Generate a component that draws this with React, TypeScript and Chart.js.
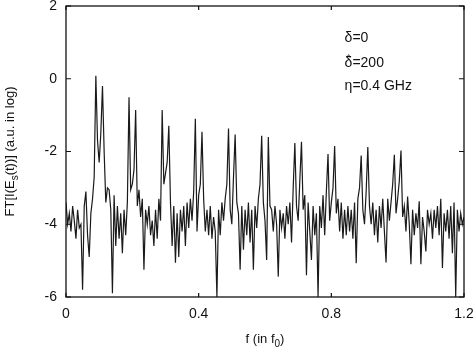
import React, { useEffect, useRef } from "react";
import { Chart, registerables } from "chart.js";

Chart.register(...registerables);

// frequency grid step (in f0), x from 0 to 1.2
const FREQ_STEP = 0.005;

// FT[I(Es(t))] in log, one value per FREQ_STEP starting at f = 0
const LOG_FT = [
  -3.4, -4.0, -3.7, -4.2, -3.5, -3.9, -4.4, -3.6, -4.1, -4.0,
  -5.8, -3.5, -3.1, -4.3, -4.9, -3.7, -3.3, -2.7, 0.08, -1.7,
  -2.3, -1.5, -0.2, -2.0, -3.4, -3.0, -3.05, -3.6, -5.9, -3.2,
  -4.6, -3.5, -4.4, -3.7, -4.8, -3.6, -4.3, -3.4, -0.51, -3.05,
  -2.9, -2.5, -0.86, -3.5, -3.05, -3.8, -3.3, -5.25, -3.6, -4.0,
  -3.5, -4.3, -3.9, -4.6, -3.6, -4.4, -3.3, -3.9, -0.86, -2.9,
  -2.6, -2.3, -1.29, -3.4, -4.6, -3.5, -5.06, -3.7, -4.9, -3.6,
  -4.2, -3.5, -4.6, -3.4, -4.1, -3.3, -3.9, -3.1, -1.1, -4.2,
  -3.2, -2.9, -1.46, -3.3, -4.2, -3.6, -4.3, -3.5, -4.4, -3.8,
  -4.2, -6.0, -3.6, -4.3, -3.4, -3.9, -3.3, -2.9, -1.37, -3.6,
  -4.0, -2.7, -1.53, -3.4, -3.7, -5.25, -3.5, -4.7, -3.6, -4.3,
  -3.4, -4.5, -3.6, -5.25, -3.5, -4.1, -3.3, -2.9, -1.57, -3.4,
  -3.9, -4.98, -1.6, -3.5, -3.6, -4.2, -3.5, -4.0, -5.44, -3.6,
  -4.1, -3.7, -4.4, -3.5, -4.0, -3.4, -4.5, -3.0, -1.77, -3.5,
  -3.9, -2.8, -1.73, -3.6, -3.2, -5.4, -3.4, -4.2, -4.98, -3.5,
  -4.3, -3.7, -6.0, -3.5, -4.1, -3.2, -4.3, -3.1, -2.07, -3.9,
  -3.4, -3.0, -1.85, -3.7, -3.3, -4.2, -3.4, -4.4, -3.6, -4.3,
  -3.5, -4.2, -3.6, -4.4, -3.4, -5.07, -3.3, -3.0, -2.11, -3.6,
  -4.0, -3.1, -1.88, -3.5, -4.0, -3.4, -4.3, -3.6, -4.5, -3.5,
  -4.1, -3.3, -4.2, -5.05, -3.3, -3.9, -3.4, -2.9, -2.09, -3.7,
  -3.3, -2.8, -1.97, -3.8, -3.5, -4.2, -3.24, -4.0, -5.1, -3.6,
  -4.3, -3.7, -4.1, -3.37, -5.1, -3.8, -4.2, -4.75, -3.6, -4.0,
  -3.7, -4.4, -3.6, -4.1, -3.5, -4.3, -3.3, -5.2, -3.7, -4.2,
  -3.6, -4.4, -3.5, -4.8, -3.4, -6.0, -3.6, -4.2, -3.7, -4.0,
  -3.8,
];

const X_TICKS = [0, 0.4, 0.8, 1.2];
const Y_TICKS = [-6, -4, -2, 0, 2];
const ANNOTATIONS = ["δ=0", "δ=200", "η=0.4 GHz"];

const FONT = "Arial, 'Liberation Sans', Helvetica, sans-serif";

const framePlugin = {
  id: "frame",
  afterDraw(chart: any) {
    const { ctx, chartArea, scales } = chart;
    const { left, right, top, bottom } = chartArea;
    ctx.save();
    ctx.strokeStyle = "#111";
    ctx.lineWidth = 1.3;
    ctx.strokeRect(left, top, right - left, bottom - top);
    ctx.lineWidth = 1.2;
    ctx.beginPath();
    for (const v of X_TICKS) {
      const x = scales.x.getPixelForValue(v);
      ctx.moveTo(x, bottom);
      ctx.lineTo(x, bottom - 4);
      ctx.moveTo(x, top);
      ctx.lineTo(x, top + 4);
    }
    for (const v of Y_TICKS) {
      const y = scales.y.getPixelForValue(v);
      ctx.moveTo(left, y);
      ctx.lineTo(left + 5, y);
      ctx.moveTo(right, y);
      ctx.lineTo(right - 5, y);
    }
    ctx.stroke();

    // annotations
    ctx.fillStyle = "#111";
    ctx.font = `14px ${FONT}`;
    ctx.textBaseline = "alphabetic";
    ctx.textAlign = "left";
    const ax = scales.x.getPixelForValue(0.84);
    ctx.fillText(ANNOTATIONS[0], ax, 42);
    ctx.fillText(ANNOTATIONS[1], ax, 67);
    ctx.fillText(ANNOTATIONS[2], ax, 90);
    // hat over the second delta
    ctx.font = `9px ${FONT}`;
    ctx.fillText("^", ax + 2, 61);

    // title with subscript
    const drawSub = (parts: [string, boolean][], cx: number, cy: number) => {
      let total = 0;
      for (const [t, sub] of parts) {
        ctx.font = sub ? `10px ${FONT}` : `13px ${FONT}`;
        total += ctx.measureText(t).width;
      }
      let x = cx - total / 2;
      for (const [t, sub] of parts) {
        ctx.font = sub ? `10px ${FONT}` : `13px ${FONT}`;
        ctx.fillText(t, x, cy + (sub ? 4 : 0));
        x += ctx.measureText(t).width;
      }
    };
    ctx.textAlign = "left";
    drawSub(
      [
        ["f (in f", false],
        ["0", true],
        [")", false],
      ],
      (left + right) / 2,
      343
    );

    ctx.save();
    ctx.translate(14, (top + bottom) / 2);
    ctx.rotate(-Math.PI / 2);
    drawSub(
      [
        ["FT[I(E", false],
        ["s", true],
        ["(t))] (a.u. in log)", false],
      ],
      0,
      0
    );
    ctx.restore();
    ctx.restore();
  },
};

export default function App() {
  const ref = useRef<HTMLCanvasElement | null>(null);
  useEffect(() => {
    if (!ref.current) return;
    const data = LOG_FT.map((v, i) => ({ x: i * FREQ_STEP, y: v }));
    const chart = new Chart(ref.current, {
      type: "line",
      data: {
        datasets: [
          {
            data,
            borderColor: "#1a1a1a",
            borderWidth: 1.2,
            pointRadius: 0,
            tension: 0,
            fill: false,
          },
        ],
      },
      options: {
        animation: false,
        responsive: true,
        maintainAspectRatio: false,
        layout: { padding: { top: 6, right: 10, left: 0, bottom: 0 } },
        plugins: {
          legend: { display: false },
          tooltip: { enabled: false },
        },
        scales: {
          x: {
            type: "linear",
            min: 0,
            max: 1.2,
            afterBuildTicks: (s: any) => {
              s.ticks = X_TICKS.map((v) => ({ value: v }));
            },
            ticks: {
              padding: 9,
              color: "#111",
              font: { family: FONT, size: 14 },
              maxRotation: 0,
              callback: (v: any) => String(Math.round(Number(v) * 10) / 10),
            },
            grid: { display: false, drawTicks: false },
            border: { display: false },
            afterFit: (s: any) => {
              s.height = 54;
              s.paddingLeft = 0;
              s.paddingRight = 0;
            },
          },
          y: {
            min: -6,
            max: 2,
            afterBuildTicks: (s: any) => {
              s.ticks = Y_TICKS.map((v) => ({ value: v }));
            },
            ticks: {
              padding: 9,
              color: "#111",
              font: { family: FONT, size: 14 },
              callback: (v: any) => String(v),
            },
            grid: { display: false, drawTicks: false },
            border: { display: false },
            afterFit: (s: any) => {
              s.width = 66;
              s.paddingTop = 0;
              s.paddingBottom = 0;
            },
          },
        },
      },
      plugins: [framePlugin],
    });
    return () => chart.destroy();
  }, []);
  return (
    <div style={{ position: "fixed", left: 0, top: 0, width: 474, height: 351, background: "#fff" }}>
      <canvas ref={ref} />
    </div>
  );
}
